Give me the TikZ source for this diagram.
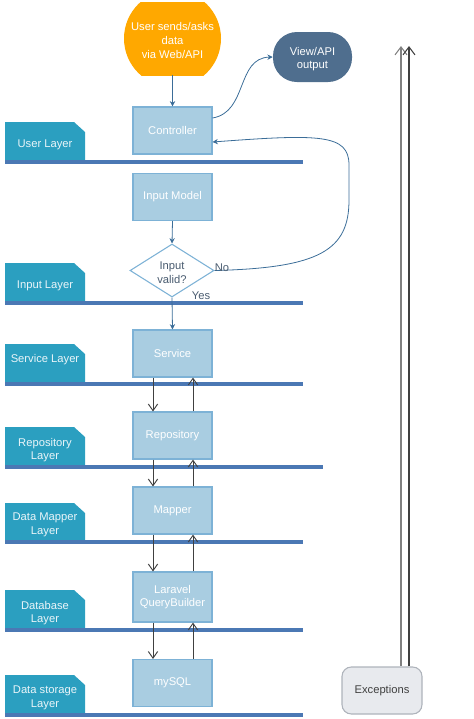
\documentclass[tikz,border=0pt]{standalone}
\usepackage{fontspec}
\setmainfont{Liberation Sans}
\usetikzlibrary{shapes.geometric,arrows.meta}
\definecolor{orangeC}{HTML}{FFA800}
\definecolor{tabC}{HTML}{2B9FC0}
\definecolor{lineC}{HTML}{4B78B4}
\definecolor{boxF}{HTML}{A9CDE1}
\definecolor{boxD}{HTML}{7DB2D6}
\definecolor{viewC}{HTML}{4F6E8E}
\definecolor{connC}{HTML}{3B6D98}
\definecolor{flowC}{HTML}{404040}
\definecolor{excF}{HTML}{E8EAEE}
\definecolor{excD}{HTML}{AEB3BB}
\definecolor{diaT}{HTML}{4A5C70}
\begin{document}
\begin{tikzpicture}[x=0.75pt,y=-0.75pt,
  every node/.style={font=\fontsize{8.4}{10.2}\selectfont},
  boxnode/.style={draw=boxD,fill=boxF,line width=0.8pt,minimum width=59.25pt,minimum height=35.25pt,inner sep=0pt,text=white,align=center},
  tabtext/.style={text=white!90!tabC,align=center,inner sep=0pt},
  layerline/.style={draw=lineC,line width=3pt},
  conn/.style={draw=connC,line width=0.6pt,-{Stealth[length=4pt,width=4pt]}},
  flow/.style={draw=flowC,line width=0.7pt,-{Straight Barb[length=5pt,width=7pt]}},
  excarrow/.style={line width=0.8pt,-{Straight Barb[length=6pt,width=9pt]}}
]
\useasboundingbox (0,0) rectangle (474,719);

% orange start circle
\begin{scope}
\clip (100,2) rectangle (250,75);
\node[circle,fill=orangeC,minimum size=72.75pt,inner sep=0pt] (user) at (172.5,38.5) {};
\end{scope}
\node[text=white,align=center] (usertxt) at (172.5,40.5) {User sends/asks\\data\\via Web/API};
\coordinate (userb) at (172.5,75);

% view output
\node[fill=viewC,rounded corners=18pt,minimum width=59.25pt,minimum height=37.5pt,text=white,align=center,inner sep=0pt] (view) at (312.5,57) {};
\node[text=white,align=center] (viewtxt) at (312.5,59) {View/API\\output};

% layer tabs and lines
\foreach \t/\b/\r in {122/161.5/303, 263/302.5/303, 344/384/303, 427/467/323, 503/542/303, 590/630/303, 675/715/303}{
  \fill[tabC] (5,\t) -- (74,\t) -- (85,\t+10) -- (85,\b) -- (5,\b) -- cycle;
  \draw[layerline] (5,\b) -- (\r,\b);
}
\node[tabtext] (l1) at (45,144.5) {User Layer};
\node[tabtext] (l2) at (45,285.5) {Input Layer};
\node[tabtext] (l3) at (45,359.5) {Service Layer};
\node[tabtext] (l4) at (45,450) {Repository\\Layer};
\node[tabtext] (l5) at (45,525) {Data Mapper\\Layer};
\node[tabtext] (l6) at (45,613) {Database\\Layer};
\node[tabtext] (l7) at (45,698) {Data storage\\Layer};

% boxes
\node[boxnode] (ctrl) at (172.5,130.5) {Controller};
\node[boxnode] (inmodel) at (172.5,197) {Input Model};
\node[diamond,draw=boxD,fill=white,line width=0.8pt,minimum width=63pt,minimum height=39.75pt,inner sep=0pt] (valid) at (172,270.5) {};
\node[text=diaT,align=center,inner sep=0pt] (validtxt) at (172,272.5) {Input\\valid?};
\node[boxnode] (service) at (172.5,353.5) {Service};
\node[boxnode] (repo) at (172.5,435.5) {Repository};
\node[boxnode] (mapper) at (172.5,510.5) {Mapper};
\node[boxnode,minimum height=37.5pt] (qb) at (172.5,597) {Laravel\\QueryBuilder};
\node[boxnode] (mysql) at (172.5,683) {mySQL};

% exceptions
\node[draw=excD,fill=excF,rounded corners=7pt,line width=0.8pt,minimum width=60pt,minimum height=35.25pt,text=flowC,inner sep=0pt] (exc) at (382,690.5) {Exceptions};
\coordinate (e1) at (401,46);
\coordinate (e2) at (409,46);
\draw[excarrow,draw=gray] (exc.north -| e1) -- (e1);
\draw[excarrow,draw=flowC] (exc.north -| e2) -- (e2);

% blue connectors
\draw[conn] (userb) -- (ctrl.north);
\draw[conn] (ctrl.east |- 0,118) .. controls (248,112) and (236,58) .. (view.west);
\draw[conn] (inmodel.south) -- (valid.north);
\draw[conn] (valid.east) .. controls (320,268) and (349,250) .. (349,200) -- (349,165) .. controls (349,134) and (320,134) .. (ctrl.east |- 0,142);
\draw[conn] (valid.south) -- (service.north);
\node[text=diaT,inner sep=0pt] (no) at (222,268) {No};
\node[text=diaT,inner sep=0pt] (yes) at (201,295.5) {Yes};

% data flow arrows
\foreach \a/\b in {service/repo, repo/mapper, mapper/qb, qb/mysql}{
  \draw[flow] (\a.south -| 153,0) -- (\b.north -| 153,0);
  \draw[flow] (\b.north -| 193,0) -- (\a.south -| 193,0);
}
\end{tikzpicture}
\end{document}
